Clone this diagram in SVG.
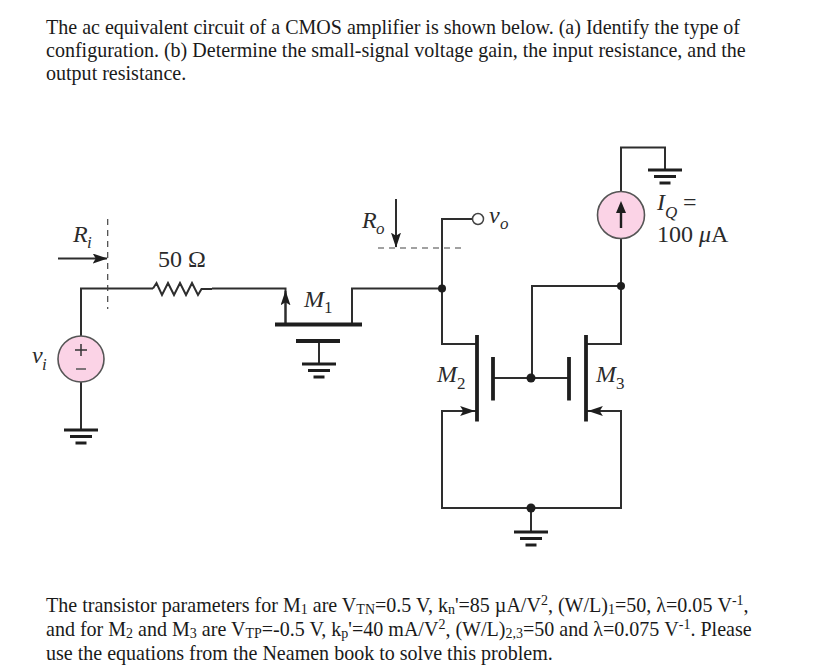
<svg xmlns="http://www.w3.org/2000/svg" width="815" height="671" viewBox="0 0 815 671">
<style>
text{font-family:"Liberation Serif","Times New Roman",serif;fill:#1a1a1a}
.p{font-size:20.05px}
.b{font-size:20.05px}
.l{font-size:24px;fill:#2b2b2b}
.i{font-size:24px;font-style:italic;fill:#2b2b2b}
.s{font-size:17px;font-style:italic;fill:#2b2b2b}
.n{font-size:17px;fill:#2b2b2b}
.w{fill:none;stroke:#2e2e2e;stroke-width:2}
.d{fill:none;stroke:#444;stroke-width:1.2;stroke-dasharray:6 5}
.t{fill:none;stroke:#1e1e1e;stroke-width:3.8}
.g{fill:none;stroke:#1e1e1e;stroke-width:3}
.dot{fill:#1e1e1e}
.src{fill:#fbd3e6;stroke:#555;stroke-width:1.6}
</style>
<defs>
<marker id="ah" viewBox="0 0 12 8" refX="11.5" refY="4" markerWidth="15" markerHeight="10" markerUnits="userSpaceOnUse" orient="auto"><path d="M0 0L12 4L0 8L2.5 4Z" fill="#1e1e1e"/></marker>
<g id="gnd"><path class="g" d="M-17 0H17M-11 6.500H11"/><path class="g" d="M-5.500 13H5.500"/></g>
</defs>
<g id="problem-text">
<text class="p" x="46" y="34">The ac equivalent circuit of a CMOS amplifier is shown below. (a) Identify the type of</text>
<text class="p" x="46" y="57">configuration. (b) Determine the small-signal voltage gain, the input resistance, and the</text>
<text class="p" x="46" y="80">output resistance.</text>
</g>
<g id="connectors">
<path class="w" d="M81 336V288.500H153M212 288.500H285.500V324"/>
<path class="w" d="M153 288.500l3.500-5.500 5.500 12 6-12 6 12 6-12 6 12 6-12 6 12 3.500-6H212"/>
<path class="w" d="M81 382V430"/>
<path class="w" d="M352 324V288.500H442"/>
<path class="w" d="M472.500 219H442V344H477"/>
<path class="w" d="M621 191.500V147.500H665V170"/>
<path class="w" d="M621 238.500V344H586"/>
<path class="w" d="M621 286H532V378"/>
<path class="w" d="M493 378H569"/>
<path class="w" d="M477 411H442V508H621V411H586"/>
<path class="w" d="M531 508V532"/>
<path class="w" d="M319 341V364"/>
<path class="d" d="M107.700 219V309"/>
<path class="d" d="M378 248H464"/>
<path class="w" d="M58 258.500H107" marker-end="url(#ah)"/>
<path class="w" d="M396 199V247" marker-end="url(#ah)"/>
<path class="w" d="M285.500 324V291" marker-end="url(#ah)"/>
<path class="w" d="M442 411H474.500" marker-end="url(#ah)"/>
<path class="w" d="M621 411H588.500" marker-end="url(#ah)"/>
<circle class="dot" cx="442" cy="288.500" r="4"/>
<circle class="dot" cx="621" cy="286" r="4"/>
<circle class="dot" cx="531" cy="378" r="4.500"/>
<circle class="dot" cx="531" cy="508" r="4.500"/>
</g>
<g id="vi-source">
<circle class="src" cx="81" cy="359" r="23"/>
<path d="M75 350H87M81 344V356" stroke="#333" stroke-width="1.500" fill="none"/>
<path d="M76 369H86" stroke="#555" stroke-width="1.500" fill="none"/>
<text class="i" x="32" y="363">v</text><text class="s" x="42" y="370">i</text>
</g>
<g id="gnd-vi"><use href="#gnd" x="81" y="430"/></g>
<g id="gnd-m1"><use href="#gnd" x="319" y="364"/></g>
<g id="gnd-iq"><use href="#gnd" x="665" y="170"/></g>
<g id="gnd-m23"><use href="#gnd" x="531" y="532"/></g>
<g id="ri-label"><text class="i" x="73" y="242">R</text><text class="s" x="87" y="248">i</text></g>
<g id="resistor"><text class="l" x="158" y="267">50 Ω</text></g>
<g id="m1">
<path class="t" d="M275 324.500H362M296 341H340"/>
<text class="i" x="304" y="307">M</text><text class="n" x="324" y="313">1</text>
</g>
<g id="ro-label"><text class="i" x="362" y="228">R</text><text class="s" x="376" y="234">o</text></g>
<g id="vo-terminal">
<circle cx="478" cy="219" r="5.500" fill="#fff" stroke="#444" stroke-width="1.500"/>
<text class="i" x="489" y="223">v</text><text class="s" x="500" y="229">o</text>
</g>
<g id="iq-source">
<circle class="src" cx="621" cy="215" r="23.500"/>
<path d="M621 228V206" stroke="#1e1e1e" stroke-width="2.400" fill="none"/>
<path d="M616 213L621 201L626 213Z" fill="#1e1e1e"/>
<text class="i" x="657" y="210">I</text><text class="s" x="665" y="218">Q</text><text class="l" x="683" y="210">=</text>
<text class="l" x="657" y="242">100 <tspan font-style="italic">μ</tspan>A</text>
</g>
<g id="m2">
<path class="t" d="M477 335V421.500M493 357V400.500"/>
<text class="i" x="437" y="382">M</text><text class="n" x="457" y="389">2</text>
</g>
<g id="m3">
<path class="t" d="M586 335V421.500M569 357V400.500"/>
<text class="i" x="596" y="382">M</text><text class="n" x="616" y="389">3</text>
</g>
<g id="parameter-text">
<text class="b" x="46" y="612">The transistor parameters for M<tspan font-size="14" dy="2">1</tspan><tspan dy="-2"> are V</tspan><tspan font-size="14" dy="2">TN</tspan><tspan dy="-2">=0.5 V, k</tspan><tspan font-size="14" dy="2">n</tspan><tspan dy="-2">'=85 µA/V</tspan><tspan font-size="14" dy="-7">2</tspan><tspan dy="7">, (W/L)</tspan><tspan font-size="14" dy="2">1</tspan><tspan dy="-2">=50, λ=0.05 V</tspan><tspan font-size="14" dy="-7">-1</tspan><tspan dy="7">,</tspan></text>
<text class="b" x="46" y="636">and for M<tspan font-size="14" dy="2">2</tspan><tspan dy="-2"> and M</tspan><tspan font-size="14" dy="2">3</tspan><tspan dy="-2"> are V</tspan><tspan font-size="14" dy="2">TP</tspan><tspan dy="-2">=-0.5 V, k</tspan><tspan font-size="14" dy="2">p</tspan><tspan dy="-2">'=40 mA/V</tspan><tspan font-size="14" dy="-7">2</tspan><tspan dy="7">, (W/L)</tspan><tspan font-size="14" dy="2">2,3</tspan><tspan dy="-2">=50 and λ=0.075 V</tspan><tspan font-size="14" dy="-7">-1</tspan><tspan dy="7">. Please</tspan></text>
<text class="b" x="46" y="659.500">use the equations from the Neamen book to solve this problem.</text>
</g>
</svg>
